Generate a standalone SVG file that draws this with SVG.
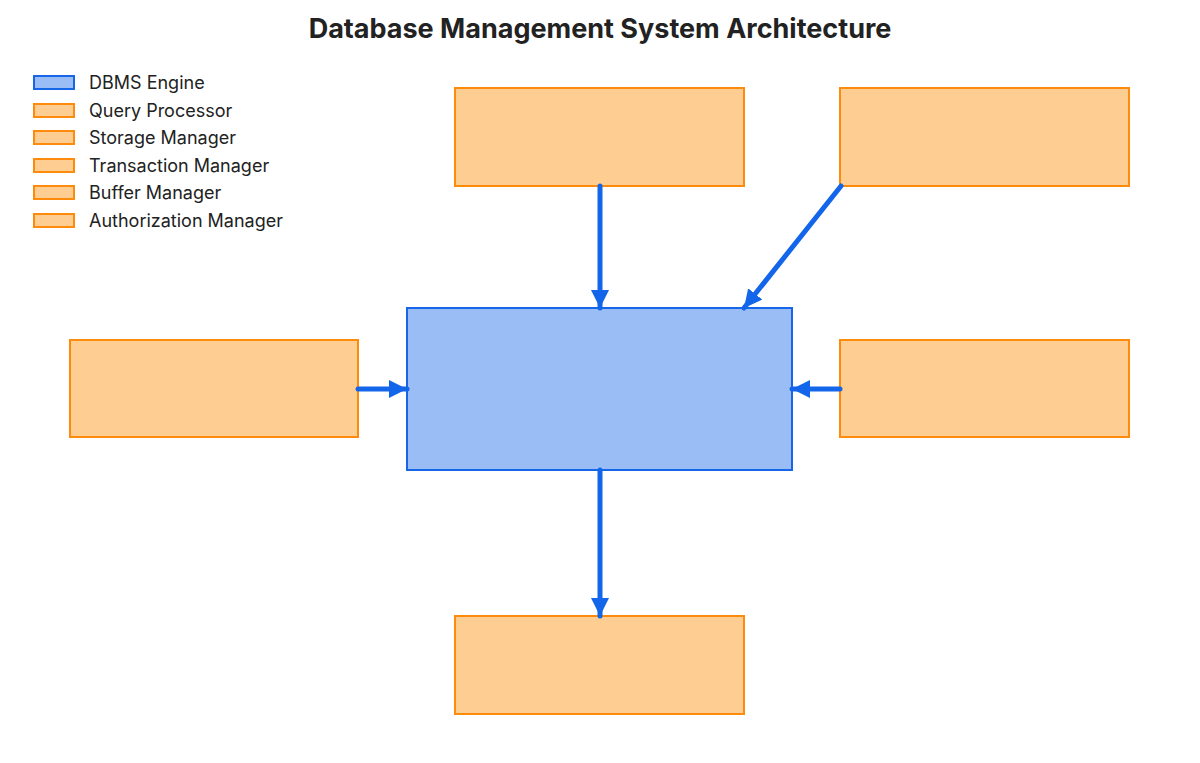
<svg xmlns="http://www.w3.org/2000/svg" width="1200" height="763" viewBox="0 0 1200 763">
<style>
.o{fill:#fecd91;stroke:#fe8b0c;stroke-width:2}
.b{fill:#9bbdf5;stroke:#1766e8;stroke-width:2}
.t{font-family:Inter,"Liberation Sans",sans-serif;font-size:18px;fill:#222}
.c{stroke:#1366e9;stroke-width:5;fill:none;stroke-linecap:round}
</style>
<defs><marker id="a" viewBox="0 0 10 10" refX="10" refY="5" markerWidth="3.6" markerHeight="3.6" orient="auto" markerUnits="strokeWidth"><path d="M0,0L10,5L0,10z" fill="#1366e9"/></marker></defs>
<rect width="1200" height="763" fill="#fff"/>
<text x="600" y="38" text-anchor="middle" font-family="Inter,'Liberation Sans',sans-serif" font-size="27" font-weight="bold" fill="#222">Database Management System Architecture</text>
<g id="legend">
<rect class="b" x="34" y="76" width="40" height="13"/><text class="t" x="89" y="89">DBMS Engine</text>
<rect class="o" x="34" y="104" width="40" height="13"/><text class="t" x="89" y="117">Query Processor</text>
<rect class="o" x="34" y="131" width="40" height="13"/><text class="t" x="89" y="144">Storage Manager</text>
<rect class="o" x="34" y="159" width="40" height="13"/><text class="t" x="89" y="172">Transaction Manager</text>
<rect class="o" x="34" y="186" width="40" height="13"/><text class="t" x="89" y="199">Buffer Manager</text>
<rect class="o" x="34" y="214" width="40" height="13"/><text class="t" x="89" y="227">Authorization Manager</text>
</g>
<g id="query"><rect class="o" x="455" y="88" width="289" height="98"/></g>
<g id="storage"><rect class="o" x="840" y="88" width="289" height="98"/></g>
<g id="transaction"><rect class="o" x="70" y="340" width="288" height="97"/></g>
<g id="buffer"><rect class="o" x="840" y="340" width="289" height="97"/></g>
<g id="engine"><rect class="b" x="407" y="308" width="385" height="162"/></g>
<g id="auth"><rect class="o" x="455" y="616" width="289" height="98"/></g>
<g id="connectors">
<path class="c" d="M600,186V308" marker-end="url(#a)"/>
<path class="c" d="M841,186L744,308" marker-end="url(#a)"/>
<path class="c" d="M358,389H407" marker-end="url(#a)"/>
<path class="c" d="M840,389H792" marker-end="url(#a)"/>
<path class="c" d="M600,470V616" marker-end="url(#a)"/>
</g>
</svg>
